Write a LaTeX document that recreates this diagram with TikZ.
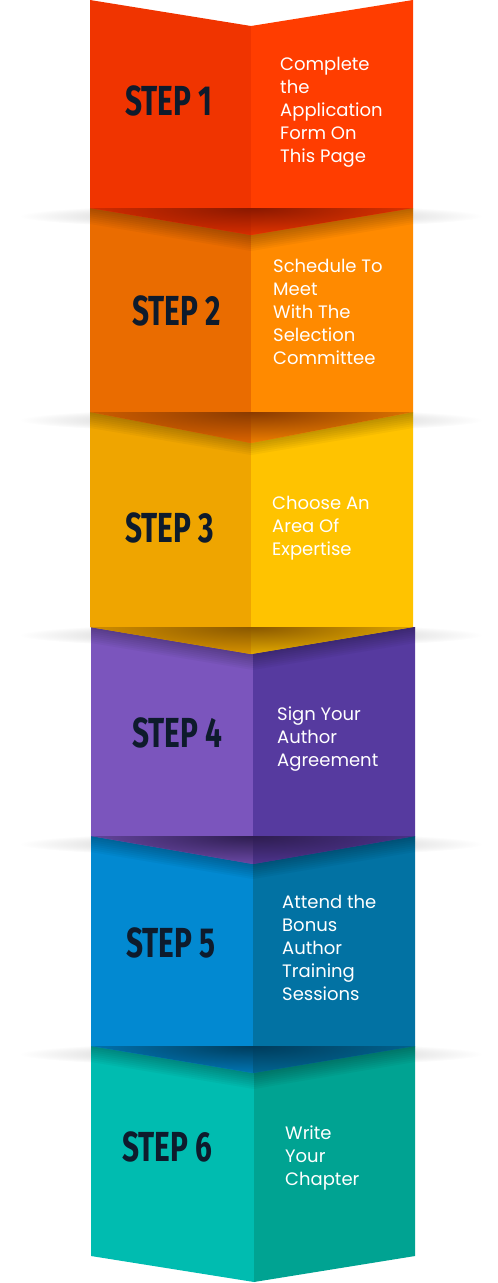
\documentclass[tikz,border=0pt]{standalone}
\usepackage{fontspec}
\setmainfont{Poppins}
\newfontfamily\stepfont[FakeStretch=0.71]{Fira Sans}
\definecolor{navy}{HTML}{0E1B2C}
\definecolor{bAl}{HTML}{F03400}\definecolor{bAr}{HTML}{FF3D00}\definecolor{bAd}{HTML}{8A1800}
\definecolor{bBl}{HTML}{EA6C00}\definecolor{bBr}{HTML}{FF8A00}\definecolor{bBd}{HTML}{8A3A00}
\definecolor{bCl}{HTML}{EFA500}\definecolor{bCr}{HTML}{FFC300}\definecolor{bCd}{HTML}{8A5800}
\definecolor{bDl}{HTML}{7B55BD}\definecolor{bDr}{HTML}{563A9F}\definecolor{bDd}{HTML}{2E1D50}
\definecolor{bEl}{HTML}{0289D1}\definecolor{bEr}{HTML}{0272A3}\definecolor{bEd}{HTML}{003C5C}
\definecolor{bFl}{HTML}{00BCB0}\definecolor{bFr}{HTML}{00A392}\definecolor{bFd}{HTML}{005048}
\tikzset{
  steplabel/.style={font=\stepfont\bfseries\fontsize{42}{42}\selectfont, text=navy, inner sep=0pt},
  desc/.style={font=\fontsize{18}{23}\selectfont, text=white, align=left, inner sep=0pt},
}
\begin{document}
\begin{tikzpicture}[x=1pt,y=-1pt]
\useasboundingbox (0,0) rectangle (498,1283);
% soft bands behind the junctions
\foreach \yb in {208,412,627,836,1046}{
  \shade[inner color=black!30, outer color=white] (251,\yb+8) ellipse (232 and 12);
}
% blocks, bottom first
\foreach \xa/\xm/\xb/\yt/\yn/\yb/\tip/\cl/\cr/\cd/\up in {
  91/254/415/1046/1046/1256/26/bFl/bFr/bFd/1,
  91/253/415/836/836/1046/27/bEl/bEr/bEd/1,
  91/253/415/627/627/836/28/bDl/bDr/bDd/1,
  90/251/413/412/412/627/27/bCl/bCr/bCd/1,
  90/251/413/208/208/412/31/bBl/bBr/bBd/1,
  90/251/413/0/26/208/27/bAl/bAr/bAd/0}{
  \fill[\cl] (\xa,\yt) -- (\xm,\yn) -- (\xm,\yb+\tip) -- (\xa,\yb) -- cycle;
  \fill[\cr] (\xm,\yn) -- (\xb,\yt) -- (\xb,\yb) -- (\xm,\yb+\tip) -- cycle;
  \ifnum\up=1
    \foreach \k in {1,...,8}{
      \fill[black, opacity=0.035] (\xa,\yt) -- (\xb,\yt) -- (\xb,\yt+2*\k) -- (\xm,\yt+27+2*\k) -- (\xa,\yt+2*\k) -- cycle;
    }
  \fi
  \ifnum\yb<1200
    \begin{scope}
      \clip (\xa,\yb) -- (\xm,\yb) -- (\xm,\yb+\tip) -- cycle;
      \shade[inner color=\cd, outer color=\cl] (\xm,\yb) ellipse (235 and 36);
    \end{scope}
    \begin{scope}
      \clip (\xm,\yb) -- (\xb,\yb) -- (\xm,\yb+\tip) -- cycle;
      \shade[inner color=\cd, outer color=\cr] (\xm,\yb) ellipse (235 and 36);
    \end{scope}
  \fi
}
% labels
\node[steplabel, anchor=base west] (s1) at (125,115) {STEP 1};
\node[steplabel, anchor=base west] (s2) at (132,325) {STEP 2};
\node[steplabel, anchor=base west] (s3) at (125,542) {STEP 3};
\node[steplabel, anchor=base west] (s4) at (132,747) {STEP 4};
\node[steplabel, anchor=base west] (s5) at (126,957) {STEP 5};
\node[steplabel, anchor=base west] (s6) at (122,1161) {STEP 6};
\node[desc, anchor=base west] (d1) at (280,162) {Complete\\the\\Application\\Form On\\This Page};
\node[desc, anchor=base west] (d2) at (273,364) {Schedule To\\Meet\\With The\\Selection\\Committee};
\node[desc, anchor=base west] (d3) at (272,555) {Choose An\\Area Of\\Expertise};
\node[desc, anchor=base west] (d4) at (277,766) {Sign Your\\Author\\Agreement};
\node[desc, anchor=base west] (d5) at (282,1000) {Attend the\\Bonus\\Author\\Training\\Sessions};
\node[desc, anchor=base west] (d6) at (285,1185) {Write\\Your\\Chapter};
\end{tikzpicture}
\end{document}
